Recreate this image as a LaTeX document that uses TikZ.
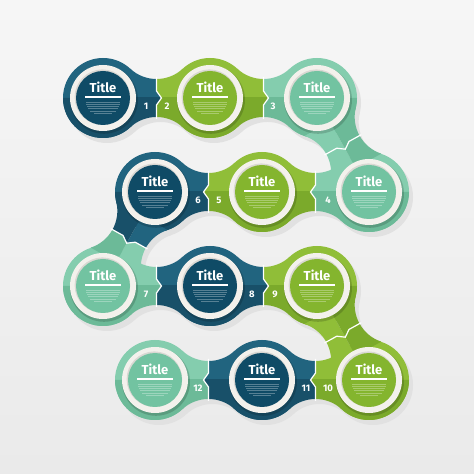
\documentclass[tikz,border=0pt]{standalone}
\usepackage{fontspec}
\setmainfont{Fira Sans}
\usetikzlibrary{calc}
\definecolor{dbL}{HTML}{21647F}
\definecolor{dbD}{HTML}{185069}
\definecolor{dbI}{HTML}{0F4B66}
\definecolor{grL}{HTML}{90BE38}
\definecolor{grD}{HTML}{7BAA2B}
\definecolor{grI}{HTML}{84B52E}
\definecolor{mnL}{HTML}{84CDAE}
\definecolor{mnD}{HTML}{6CBA98}
\definecolor{mnI}{HTML}{72C3A1}
\definecolor{ringc}{HTML}{F3F1EC}
\definecolor{bgA}{HTML}{F6F6F6}
\definecolor{bgB}{HTML}{EAEAEA}
\definecolor{shdc}{HTML}{E1E1E1}
\tikzset{
  ttl/.style={text=white,font=\fontsize{13}{13}\selectfont\bfseries,inner sep=0pt},
  numst/.style={text=white,font=\fontsize{9.5}{10}\selectfont\bfseries,inner sep=0pt},
  phl/.style={white,opacity=.3,line width=.7pt},
  uline/.style={white,line width=1.5pt}
}
% neck between A (origin) and B (107,0), local frame
\newcommand\neckfill[1]{\fill[#1] (27.22,29.31) arc[start angle=227.14,end angle=312.86,radius=38.65] -- (79.78,-29.31) arc[start angle=47.14,end angle=132.86,radius=38.65] -- cycle;}
% #1 A, #2 angle, #3 colA, #4 colB, #5 tip dir, #6 light side
\newcommand\neck[6]{%
\begin{scope}[shift={(#1)},rotate=#2]
  \begin{scope}
    \clip (-50,-60) -- (53.5,-60) -- (53.5,-7) -- ({53.5+5*#5},0) -- (53.5,7) -- (53.5,60) -- (-50,60) -- cycle;
    \begin{scope}\clip (-50,0) rectangle (160,{60*#6}); \neckfill{#3L}\end{scope}
    \begin{scope}\clip (-50,0) rectangle (160,{-60*#6}); \neckfill{#3D}\end{scope}
  \end{scope}
  \begin{scope}
    \clip (160,-60) -- (53.5,-60) -- (53.5,-7) -- ({53.5+5*#5},0) -- (53.5,7) -- (53.5,60) -- (160,60) -- cycle;
    \begin{scope}\clip (-50,0) rectangle (160,{60*#6}); \neckfill{#4L}\end{scope}
    \begin{scope}\clip (-50,0) rectangle (160,{-60*#6}); \neckfill{#4D}\end{scope}
  \end{scope}
  \draw[white,line width=1.2pt] (53.5,-21) -- (53.5,-7) -- ({53.5+5*#5},0) -- (53.5,7) -- (53.5,21);
\end{scope}}
\newcommand\neckshadow[2]{%
\begin{scope}[shift={($(#1)+(4,-5)$)},rotate=#2]\neckfill{shdc}\end{scope}}
\newcommand\blob[2]{%
  \fill[#2L] (#1) circle (40);
  \fill[#2D] ($(#1)+(40,0)$) arc[start angle=0,end angle=-180,radius=40] -- cycle;}
\newcommand\disc[3]{% #1 coord, #2 colour, #3 id
  \fill[black,opacity=.16] ($(#1)+(1,-1.8)$) circle (34);
  \fill[ringc] (#1) circle (33);
  \fill[black,opacity=.10] ($(#1)+(-.6,.8)$) circle (27.8);
  \fill[#2I] (#1) circle (27);
  \node[ttl] (t#3) at ($(#1)+(0,11)$) {Title};
  \draw[uline] ($(#1)+(-18,1)$) -- ($(#1)+(18,1)$);
  \draw[phl] ($(#1)+(-17,-4.5)$) -- ($(#1)+(17,-4.5)$);
  \draw[phl] ($(#1)+(-17,-6.6)$) -- ($(#1)+(17,-6.6)$);
  \draw[phl] ($(#1)+(-16,-8.7)$) -- ($(#1)+(16,-8.7)$);
  \draw[phl] ($(#1)+(-15,-10.8)$) -- ($(#1)+(15,-10.8)$);
  \draw[phl] ($(#1)+(-13,-12.9)$) -- ($(#1)+(13,-12.9)$);
  \draw[phl] ($(#1)+(-9,-15)$) -- ($(#1)+(9,-15)$);}
\newcommand\num[3]{\node[numst] (n#2) at ($(#1)+(#3,-8.5)$) {#2};}
\begin{document}
\begin{tikzpicture}[x=1pt,y=1pt]
\fill[top color=bgA,bottom color=bgB] (0,0) rectangle (474,474);
\useasboundingbox (0,0) rectangle (474,474);
\coordinate (c1) at (103,376);
\coordinate (c2) at (210,376);
\coordinate (c3) at (317,376);
\coordinate (c4) at (369,282);
\coordinate (c5) at (262,282);
\coordinate (c6) at (155,282);
\coordinate (c7) at (103,188);
\coordinate (c8) at (210,188);
\coordinate (c9) at (317,188);
\coordinate (c10) at (369,94);
\coordinate (c11) at (262,94);
\coordinate (c12) at (155,94);
% shadows
\foreach \c in {c1,c2,c3,c4,c5,c6,c7,c8,c9,c10,c11,c12}{\fill[shdc] ($(\c)+(4,-5)$) circle (40);}
\neckshadow{c1}{0}\neckshadow{c2}{0}\neckshadow{c3}{-61.05}
\neckshadow{c4}{180}\neckshadow{c5}{180}\neckshadow{c6}{-118.95}
\neckshadow{c7}{0}\neckshadow{c8}{0}\neckshadow{c9}{-61.05}
\neckshadow{c10}{180}\neckshadow{c11}{180}
% outer blobs
\blob{c1}{db}\blob{c2}{gr}\blob{c3}{mn}
\blob{c4}{mn}\blob{c5}{gr}\blob{c6}{db}
\blob{c7}{mn}\blob{c8}{db}\blob{c9}{gr}
\blob{c10}{gr}\blob{c11}{db}\blob{c12}{mn}
% necks
\neck{c1}{0}{db}{gr}{1}{1}
\neck{c2}{0}{gr}{mn}{1}{1}
\neck{c3}{-61.05}{mn}{mn}{1}{-1}
\neck{c4}{180}{mn}{gr}{1}{-1}
\neck{c5}{180}{gr}{db}{1}{-1}
\neck{c6}{-118.95}{db}{mn}{1}{1}
\neck{c7}{0}{mn}{db}{1}{1}
\neck{c8}{0}{db}{gr}{1}{1}
\neck{c9}{-61.05}{gr}{gr}{1}{-1}
\neck{c10}{180}{gr}{db}{1}{-1}
\neck{c11}{180}{db}{mn}{1}{-1}
% discs
\disc{c1}{db}{1}\disc{c2}{gr}{2}\disc{c3}{mn}{3}
\disc{c4}{mn}{4}\disc{c5}{gr}{5}\disc{c6}{db}{6}
\disc{c7}{mn}{7}\disc{c8}{db}{8}\disc{c9}{gr}{9}
\disc{c10}{gr}{10}\disc{c11}{db}{11}\disc{c12}{mn}{12}
% numbers
\num{c1}{1}{43}\num{c2}{2}{-43}\num{c3}{3}{-44}
\num{c4}{4}{-41}\num{c5}{5}{-43}\num{c6}{6}{43}
\num{c7}{7}{43}\num{c8}{8}{42}\num{c9}{9}{-42}
\num{c10}{10}{-41}\num{c11}{11}{44}\num{c12}{12}{43}
\end{tikzpicture}
\end{document}
